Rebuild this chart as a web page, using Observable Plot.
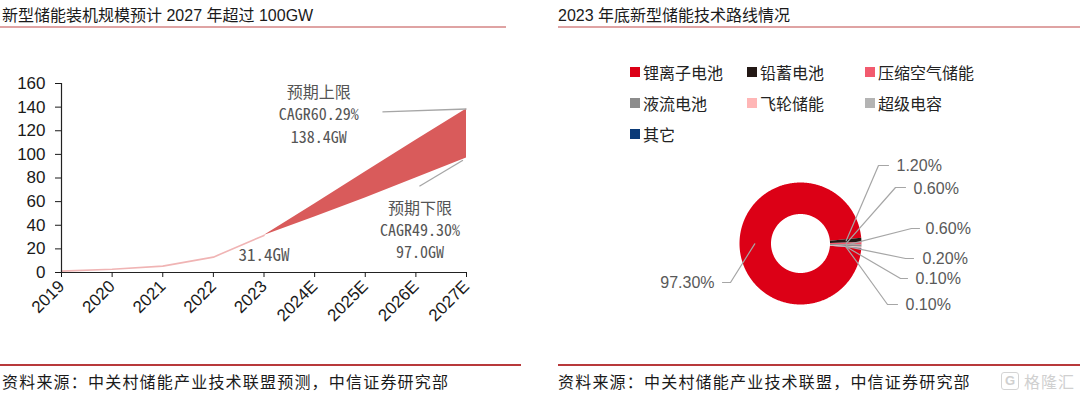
<!DOCTYPE html>
<html><head><meta charset="utf-8">
<script src="https://cdn.jsdelivr.net/npm/d3@7"></script>
<script src="https://cdn.jsdelivr.net/npm/@observablehq/plot@0.6"></script>
<style>
body{margin:0;background:#fff;width:1080px;height:395px;position:relative;overflow:hidden;font-family:"Liberation Sans","Noto Sans CJK SC",sans-serif;color:#1a1a1a;}
.abs{position:absolute;white-space:nowrap;}
.title{font-size:16px;line-height:20px;color:#1a1a1a;}
.hrule{height:2px;background:#dfa3a3;}
.frule{height:1.5px;background:#b8393b;}
.foot{font-size:16px;line-height:20px;letter-spacing:1.2px;color:#1a1a1a;font-family:"Noto Sans CJK SC",sans-serif;}
.lg{font-size:16px;line-height:20px;color:#222;font-family:"Noto Sans CJK SC",sans-serif;}
.sw{width:10px;height:10px;}
svg{overflow:visible;}
</style></head><body>
<script>
// ---------- data: left chart ----------
const years = [2019, 2020, 2021, 2022, 2023, 2024, 2025, 2026, 2027];
const yearLabels = ["2019", "2020", "2021", "2022", "2023", "2024E", "2025E", "2026E", "2027E"];
const yTicks = [0, 20, 40, 60, 80, 100, 120, 140, 160];
const historyYears = [2019, 2020, 2021, 2022, 2023];
const historyValues = [1.2, 2.8, 5.4, 13.0, 31.4];
const forecastYears = [2023, 2024, 2025, 2026, 2027];
const upperValues = [31.4, 58, 85, 112, 138.4];
const lowerValues = [31.4, 47, 63, 80, 97.0];
const upperNote = ["预期上限", "CAGR60.29%", "138.4GW"];
const lowerNote = ["预期下限", "CAGR49.30%", "97.0GW"];
const baseNote = "31.4GW";

// ---------- data: right chart ----------
const techNames = ["锂离子电池", "铅蓄电池", "压缩空气储能", "液流电池", "飞轮储能", "超级电容", "其它"];
const techShares = [97.3, 1.2, 0.6, 0.6, 0.2, 0.1, 0.1];
const techColors = ["#dc0016", "#231815", "#f25a6e", "#8c8c8c", "#ffb6b6", "#b4b4b4", "#0a3a78"];

// ---------- texts ----------
const leftTitle = "新型储能装机规模预计 2027 年超过 100GW";
const rightTitle = "2023 年底新型储能技术路线情况";
const leftSource = "资料来源：中关村储能产业技术联盟预测，中信证券研究部";
const rightSource = "资料来源：中关村储能产业技术联盟，中信证券研究部";

// ---------- layout helpers ----------
function el(tag, cls, style, text) {
  const e = document.createElement(tag);
  if (cls) e.className = cls;
  Object.assign(e.style, style);
  if (text != null) e.textContent = text;
  document.body.appendChild(e);
  return e;
}

el("div", "abs title", {left: "2px", top: "6px"}, leftTitle);
el("div", "abs title", {left: "558px", top: "6px"}, rightTitle);
el("div", "abs hrule", {left: "0px", top: "26px", width: "506px"});
el("div", "abs hrule", {left: "558px", top: "26px", width: "522px"});
el("div", "abs frule", {left: "0px", top: "364px", width: "521px"});
el("div", "abs frule", {left: "558px", top: "364px", width: "522px"});
el("div", "abs foot", {left: "2px", top: "371px"}, leftSource);
el("div", "abs foot", {left: "558px", top: "371px"}, rightSource);
// watermark
el("div", "abs", {left: "1001px", top: "372px", width: "16px", height: "16px", border: "1.5px solid #d4d4d4", borderRadius: "3px", color: "#d0d0d0", fontSize: "13px", lineHeight: "16px", textAlign: "center", fontWeight: "bold"}, "G");
el("div", "abs", {left: "1024px", top: "371px", color: "#d0d0d0", fontSize: "16px", lineHeight: "20px", fontFamily: "'Noto Sans CJK SC'", letterSpacing: "1px"}, "格隆汇");

// ---------- left chart ----------
const history = historyYears.map((y, i) => ({year: y, value: historyValues[i]}));
const forecast = forecastYears.map((y, i) => ({year: y, high: upperValues[i], low: lowerValues[i]}));
const labelOf = new Map(years.map((y, i) => [y, yearLabels[i]]));
const monoFont = "'Noto Sans Mono CJK SC','Liberation Mono',monospace";
// annotation layout (x in year units, y in GW units)
const leaderLines = [
  {x1: 2025.34, y1: 136, x2: 2027, y2: 138.4},
  {x1: 2026.07, y1: 73, x2: 2026.93, y2: 95}
];

const left = Plot.plot({
  width: 500, height: 290,
  marginLeft: 61, marginRight: 34, marginTop: 23, marginBottom: 78,
  style: {fontFamily: "'Liberation Sans',Arial,sans-serif", fontSize: "17px", color: "#1a1a1a", background: "transparent"},
  x: {type: "linear", domain: [2019, 2027]},
  y: {domain: [0, 160]},
  marks: [
    Plot.areaY(forecast, {x: "year", y1: "low", y2: "high", fill: "#d95b5b"}),
    Plot.line(history, {x: "year", y: "value", stroke: "#f0b4b4", strokeWidth: 1.6}),
    Plot.ruleY([0], {stroke: "#222", strokeWidth: 1.2}),
    Plot.ruleX([2019], {stroke: "#222", strokeWidth: 1.2}),
    Plot.axisY({ticks: yTicks, tickSize: 6, tickPadding: 10, label: null, fontSize: 17}),
    Plot.axisX({ticks: years, tickFormat: d => labelOf.get(d), tickSize: 5, tickPadding: 6, tickRotate: -45, label: null, fontSize: 17}),
    Plot.link(leaderLines, {x1: "x1", y1: "y1", x2: "x2", y2: "y2", stroke: "#a6a6a6", strokeWidth: 1.3}),
    Plot.text([upperNote.join("\n")], {x: 2024.08, y: 135, text: d => d, fontFamily: monoFont, fontSize: 16, lineHeight: 1.4, fill: "#555"}),
    Plot.text([lowerNote.join("\n")], {x: 2026.08, y: 37, text: d => d, fontFamily: monoFont, fontSize: 16, lineHeight: 1.4, fill: "#555"}),
    Plot.text([baseNote], {x: 2023, y: 14, text: d => d, fontFamily: monoFont, fontSize: 17, fill: "#555"})
  ]
});
Object.assign(left.style, {position: "absolute", left: "0px", top: "60px"});
document.body.appendChild(left);

// ---------- right chart legend ----------
const legendCols = [630, 747, 865];
const legendRows = [62, 93, 124];
techNames.forEach((name, i) => {
  const cx = legendCols[i % 3], ry = legendRows[Math.floor(i / 3)];
  el("div", "abs sw", {left: cx + "px", top: (ry + 5) + "px", background: techColors[i]});
  el("div", "abs lg", {left: (cx + 13) + "px", top: ry + "px"}, name);
});

// ---------- right chart donut ----------
const R = 61;              // px per unit radius
const inner = 29.5 / R;
const svgW = 520, svgH = 200, cxp = 240, cyp = 103;
const startAngle = 94.6 * Math.PI / 180;
const pie = d3.pie().sort(null).value(d => d.share).startAngle(startAngle).endAngle(startAngle + 2 * Math.PI);
const arcs = pie(techNames.map((n, i) => ({name: n, share: techShares[i]})));
const slicePts = [];
arcs.forEach(a => {
  const n = Math.max(2, Math.ceil((a.endAngle - a.startAngle) / 0.01));
  for (let k = 0; k <= n; k++) {
    const t = a.startAngle + (a.endAngle - a.startAngle) * k / n;
    slicePts.push({name: a.data.name, x: Math.sin(t), y: Math.cos(t)});
  }
  for (let k = n; k >= 0; k--) {
    const t = a.startAngle + (a.endAngle - a.startAngle) * k / n;
    slicePts.push({name: a.data.name, x: inner * Math.sin(t), y: inner * Math.cos(t)});
  }
});
// label layout: offsets from donut centre in px (y downward): text pos, elbow, end of horizontal
const labelLayout = [
  {tx: -86, ty: 39, ex: -70, ey: 39, hx: -78},
  {tx: 96, ty: -78, ex: 78, ey: -78, hx: 88},
  {tx: 113, ty: -55, ex: 95, ey: -56, hx: 105},
  {tx: 125, ty: -15, ex: 111, ey: -15, hx: 119},
  {tx: 122, ty: 15, ex: 105, ey: 15, hx: 113},
  {tx: 115, ty: 35, ex: 100, ey: 35, hx: 107},
  {tx: 105, ty: 61, ex: 87, ey: 61, hx: 97}
];
const labels = arcs.map((a, i) => {
  const L = labelLayout[i];
  return {name: a.data.name, text: a.data.share.toFixed(2) + "%", x: L.tx / R, y: -L.ty / R, left: i === 0};
});
const leaders = [];
arcs.forEach((a, i) => {
  const L = labelLayout[i];
  const m = (a.startAngle + a.endAngle) / 2;
  leaders.push({id: i, x: 0.75 * Math.sin(m), y: 0.75 * Math.cos(m)});
  leaders.push({id: i, x: L.ex / R, y: -L.ey / R});
  leaders.push({id: i, x: L.hx / R, y: -L.ey / R});
});

const right = Plot.plot({
  width: svgW, height: svgH, margin: 0,
  style: {fontFamily: "'Liberation Sans',Arial,sans-serif", background: "transparent"},
  x: {domain: [-cxp / R, (svgW - cxp) / R], axis: null},
  y: {domain: [-(svgH - cyp) / R, cyp / R], axis: null},
  color: {domain: techNames, range: techColors},
  marks: [
    Plot.line(slicePts, {x: "x", y: "y", z: "name", fill: "name", stroke: "none", curve: "linear-closed"}),
    Plot.line(leaders, {x: "x", y: "y", z: "id", stroke: "#a6a6a6", strokeWidth: 1.2}),
    Plot.text(labels.filter(d => !d.left), {x: "x", y: "y", text: "text", textAnchor: "start", fontSize: 16, fill: "#595959"}),
    Plot.text(labels.filter(d => d.left), {x: "x", y: "y", text: "text", textAnchor: "end", fontSize: 16, fill: "#595959"})
  ]
});
Object.assign(right.style, {position: "absolute", left: "560px", top: "140px"});
document.body.appendChild(right);
</script>
</body></html>
